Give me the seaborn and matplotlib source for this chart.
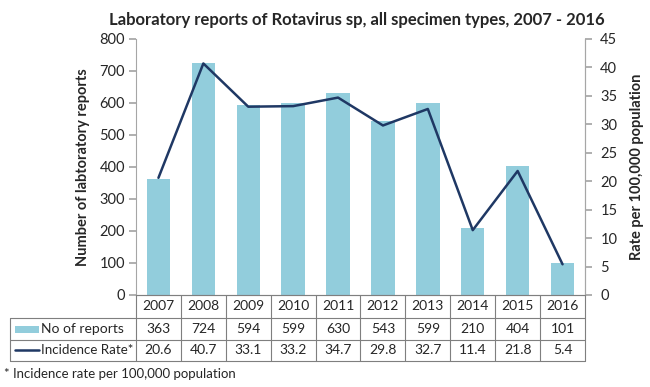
import numpy as np
import pandas as pd
import matplotlib
matplotlib.use("Agg")
import matplotlib.pyplot as plt
import seaborn as sns

years = ["2007", "2008", "2009", "2010", "2011", "2012", "2013", "2014", "2015", "2016"]
reports = [363, 724, 594, 599, 630, 543, 599, 210, 404, 101]
rates = [20.6, 40.7, 33.1, 33.2, 34.7, 29.8, 32.7, 11.4, 21.8, 5.4]
rate_labels = ["20.6", "40.7", "33.1", "33.2", "34.7", "29.8", "32.7", "11.4", "21.8", "5.4"]

sns.set_theme(style="white")
plt.rcParams['font.family'] = ['Lato', 'DejaVu Sans']

BAR = "#92CDDC"
LINE = "#1F3864"
GREY = "#A6A6A6"

W, H = 650, 387
fig = plt.figure(figsize=(W / 100, H / 100), dpi=100)

def fx(px):
    return px / W

def fy(py):
    return 1 - py / H

L, R, T, B = 136, 585, 39, 295
ax = fig.add_axes([fx(L), fy(B), fx(R) - fx(L), fy(T) - fy(B)])
df = pd.DataFrame({"year": years, "reports": reports, "rate": rates})
sns.barplot(data=df, x="year", y="reports", color=BAR, width=0.52, ax=ax,
            saturation=1, edgecolor="none")
ax.set_xlim(-0.5, 9.5)
ax.set_ylim(0, 800)
ax.set_yticks(range(0, 801, 100))
ax.set_xlabel("")
ax.set_xticks([])
ax.set_ylabel("Number of labtoratory reports", fontsize=10.5, fontweight="bold", labelpad=7)
ax.tick_params(axis="y", labelsize=10.5, length=5, color=GREY, direction="out", left=True, pad=3)
ax.spines["top"].set_visible(False)
for s in ["left", "right", "bottom"]:
    ax.spines[s].set_color(GREY)
    ax.spines[s].set_linewidth(0.8)

ax2 = ax.twinx()
sns.lineplot(x=np.arange(len(years)), y=rates, color=LINE, linewidth=1.8, ax=ax2)
ax2.set_ylim(0, 45)
ax2.set_yticks(range(0, 46, 5))
ax2.tick_params(axis="y", labelsize=10.5, length=5, color=GREY, direction="out", right=True, pad=6)
ax2.set_ylabel("Rate per 100,000 population", fontsize=10.5, fontweight="bold", labelpad=9)
for s in ["top", "left", "bottom"]:
    ax2.spines[s].set_visible(False)
ax2.spines["right"].set_color(GREY)
ax2.spines["right"].set_linewidth(0.8)
ax2.set_xlim(-0.5, 9.5)

fig.text(fx(357), fy(20), "Laboratory reports of Rotavirus sp, all specimen types, 2007 - 2016",
         ha="center", va="center", fontsize=12, fontweight="bold")

# data table
tL, tR = 10, 585
rows_y = [295, 318, 340, 361]
tax = fig.add_axes([fx(tL), fy(rows_y[-1]), fx(tR) - fx(tL), fy(rows_y[0]) - fy(rows_y[-1])])
tax.set_axis_off()
colw = (R - L) / 10.0
x0 = -0.5 - (L - tL) / colw
tax.set_xlim(x0, 9.5)
tax.set_ylim(rows_y[-1], rows_y[0])
lc = "#7F7F7F"
lw = 0.8
tax.plot([-0.5, 9.5], [rows_y[0], rows_y[0]], color=lc, lw=lw, clip_on=False)
for yy in rows_y[1:]:
    tax.plot([x0, 9.5], [yy, yy], color=lc, lw=lw, clip_on=False)
for i in range(11):
    xx = -0.5 + i
    tax.plot([xx, xx], [rows_y[0], rows_y[-1]], color=lc, lw=lw, clip_on=False)
tax.plot([x0, x0], [rows_y[1], rows_y[-1]], color=lc, lw=lw, clip_on=False)
fs = 10
for i in range(10):
    tax.text(i, (rows_y[0] + rows_y[1]) / 2, years[i], ha="center", va="center", fontsize=fs)
    tax.text(i, (rows_y[1] + rows_y[2]) / 2, str(reports[i]), ha="center", va="center", fontsize=fs)
    tax.text(i, (rows_y[2] + rows_y[3]) / 2, rate_labels[i], ha="center", va="center", fontsize=fs)
kx0 = x0 + 5 / colw
kx1 = x0 + 29 / colw
tax.fill_between([kx0, kx1], 326, 332.5, color=BAR, lw=0)
tax.plot([kx0, kx1], [350, 350], color=LINE, lw=1.8)
tax.text(x0 + 31 / colw, (rows_y[1] + rows_y[2]) / 2, "No of reports", ha="left", va="center", fontsize=fs)
tax.text(x0 + 31 / colw, (rows_y[2] + rows_y[3]) / 2, "Incidence Rate*", ha="left", va="center",
         fontsize=9.6)

fig.text(fx(4), fy(374), "* Incidence rate per 100,000 population", ha="left", va="center", fontsize=9.5)

fig.savefig("out.png", dpi=100)
